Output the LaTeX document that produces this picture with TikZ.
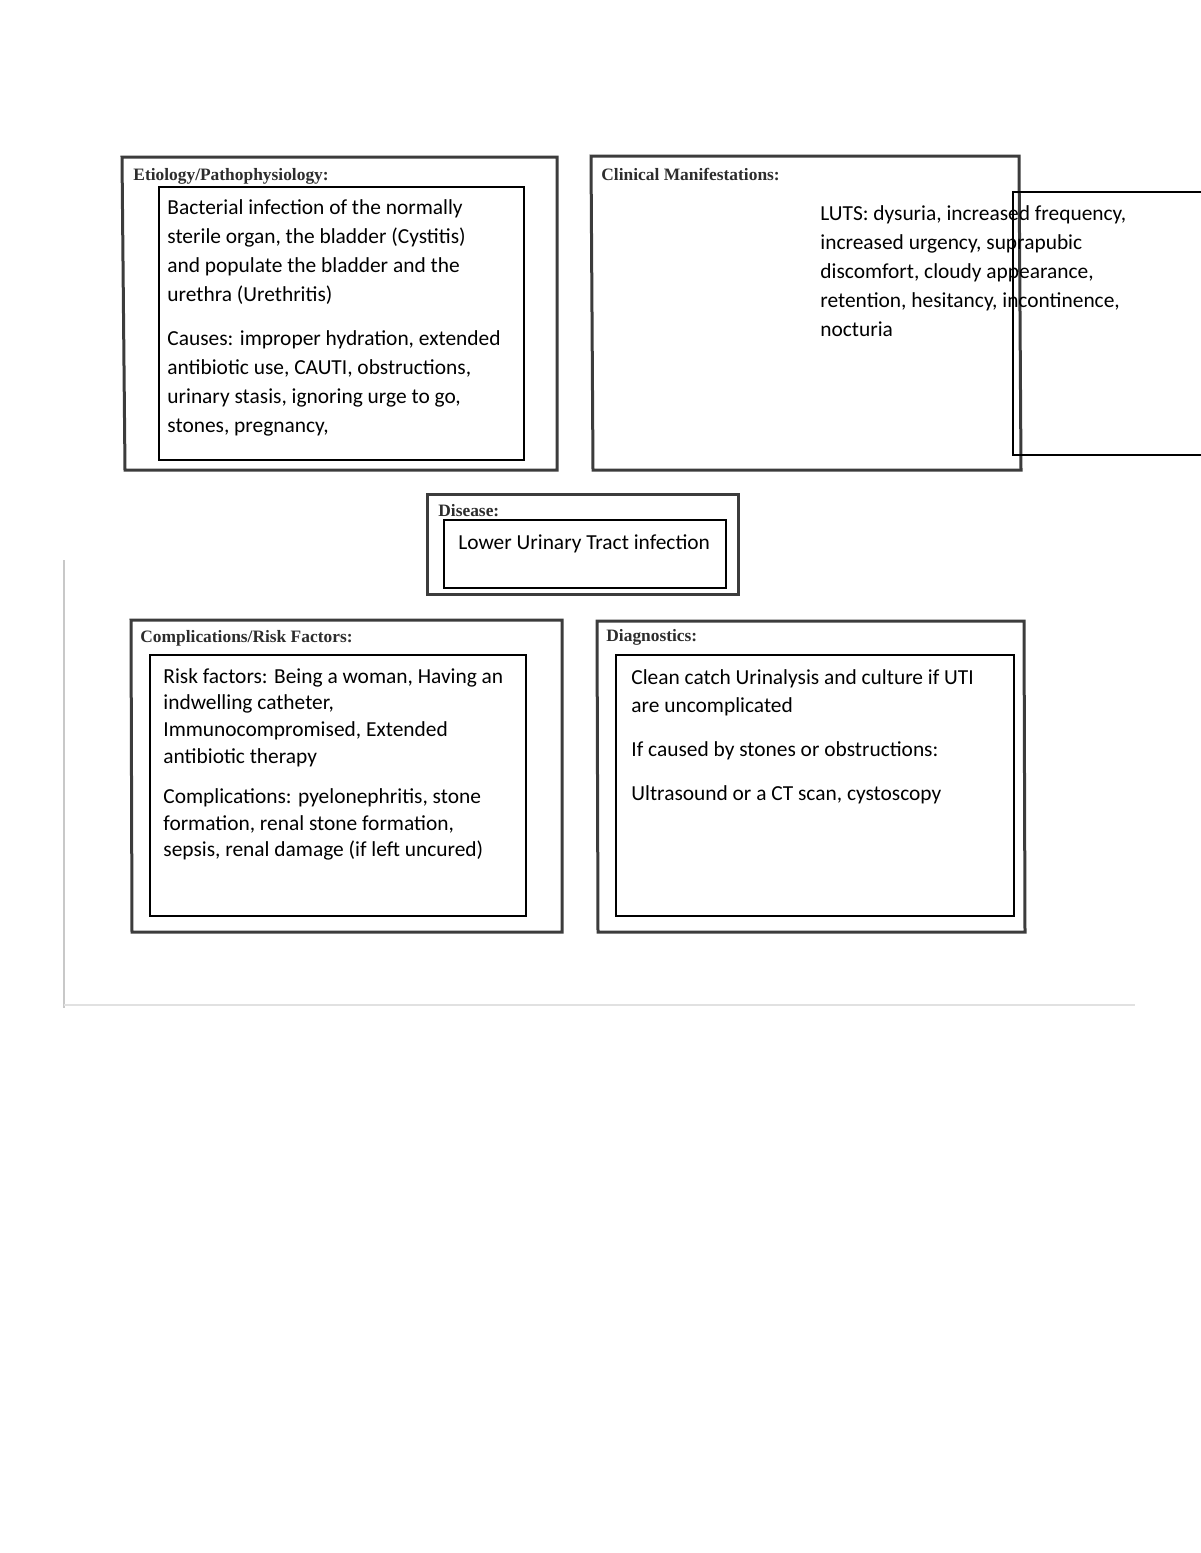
\documentclass[tikz,border=0pt]{standalone}
\usepackage{fontspec}
\setmainfont{Carlito}
\newfontfamily\headfont{Liberation Serif}
\begin{document}
\begin{tikzpicture}[x=0.5pt,y=0.5pt,yscale=-1,xscale=1,
    outer/.style={draw={rgb, 255:red, 60; green, 60; blue, 60}, line width=1.5pt},
    inner/.style={draw=black, line width=1pt},
    thin/.style={draw=black, line width=0.6pt},
    head/.style={anchor=west, inner sep=0pt, font=\headfont\bfseries\fontsize{8.7}{10}\selectfont, text={rgb, 255:red, 45; green, 45; blue, 45}},
    body/.style={anchor=north west, inner sep=0pt, align=left, font=\fontsize{10.7}{14.5}\selectfont}]
        \useasboundingbox (0,0) rectangle (1200,1553);
        % faint scan edges
        \draw [color={rgb, 255:red, 200; green, 200; blue, 200}, line width=0.6pt] (64,560) -- (64,1008) ;
        \draw [color={rgb, 255:red, 225; green, 225; blue, 225}, line width=0.6pt] (64,1005) -- (1135,1005) ;
        % frames
        \draw [outer] (122,157) -- (557,157) -- (557,470) -- (125,470) -- cycle ;
        \draw [inner] (159,187) -- (524,187) -- (524,460) -- (159,460) -- cycle ;
        \draw [outer] (591,156) -- (1019,156) -- (1021,470) -- (593,470) -- cycle ;
        \draw [thin] (1201,192) -- (1013,192) -- (1013,455) -- (1201,455) ;
        \draw [outer] (427,494) -- (738,494) -- (738,594) -- (427,594) -- cycle ;
        \draw [inner, line width=0.8pt] (444,520) -- (726,520) -- (726,588) -- (444,588) -- cycle ;
        \draw [outer] (131,620) -- (562,620) -- (562,932) -- (132,932) -- cycle ;
        \draw [inner] (150,655) -- (526,655) -- (526,916) -- (150,916) -- cycle ;
        \draw [outer] (597,621) -- (1024,621) -- (1025,932) -- (598,932) -- cycle ;
        \draw [inner] (616,655) -- (1014,655) -- (1014,916) -- (616,916) -- cycle ;
        % headings
        \draw (133,176) node (etiohead) [head] {Etiology/Pathophysiology:};
        \draw (601,174) node (clinhead) [head] {Clinical Manifestations:};
        \draw (438,511) node (dishead) [head] {Disease:};
        \draw (140,638) node (comphead) [head] {Complications/Risk Factors:};
        \draw (606,637) node (diaghead) [head] {Diagnostics:};
        % texts
        \draw (167,199) node (etiotext) [body] {Bacterial infection of the normally\\ sterile organ, the bladder (Cystitis)\\ and populate the bladder and the\\ urethra (Urethritis)\\[7.5pt] Causes: improper hydration, extended\\ antibiotic use, CAUTI, obstructions,\\ urinary stasis, ignoring urge to go,\\ stones, pregnancy,};
        \draw (820,205) node (clintext) [body] {LUTS: dysuria, increased frequency,\\ increased urgency, suprapubic\\ discomfort, cloudy appearance,\\ retention, hesitancy, incontinence,\\ nocturia};
        \draw (458,534) node (distext) [body] {Lower Urinary Tract infection};
        \draw (163,668) node (comptext) [body, font=\fontsize{10.7}{13.3}\selectfont] {Risk factors: Being a woman, Having an\\ indwelling catheter,\\ Immunocompromised, Extended\\ antibiotic therapy\\[7pt] Complications: pyelonephritis, stone\\ formation, renal stone formation,\\ sepsis, renal damage (if left uncured)};
        \draw (631,669) node (diagtext) [body, font=\fontsize{10.7}{14}\selectfont] {Clean catch Urinalysis and culture if UTI\\ are uncomplicated\\[8pt] If caused by stones or obstructions:\\[8pt] Ultrasound or a CT scan, cystoscopy};
\end{tikzpicture}
\end{document}
